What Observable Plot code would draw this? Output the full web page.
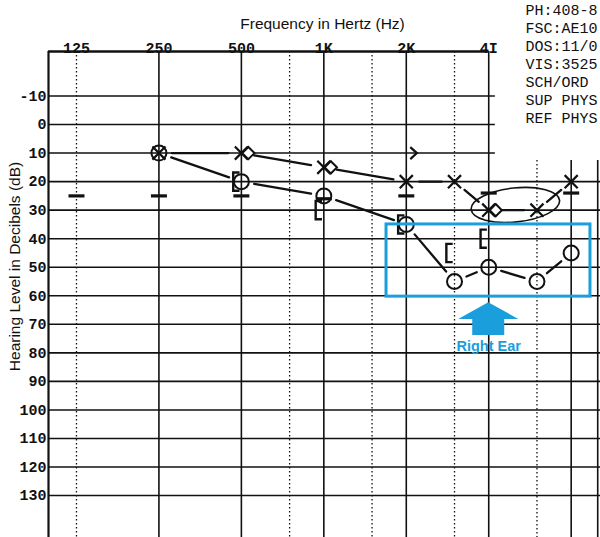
<!DOCTYPE html>
<html><head><meta charset="utf-8">
<script src="https://cdn.jsdelivr.net/npm/d3@7"></script>
<script src="https://cdn.jsdelivr.net/npm/@observablehq/plot@0.6"></script>
<style>html,body{margin:0;padding:0;background:#fff}svg{display:block}</style>
</head><body><div id="chart"></div>
<script>
// ---- data ----
const freqTicks = [125, 250, 500, 1000, 2000, 4000];
const freqLabels = ["125", "250", "500", "1K", "2K", "4I"];
const dbTicks = [-10, 0, 10, 20, 30, 40, 50, 60, 70, 80, 90, 100, 110, 120, 130];
const gridDbShort = [-10, 0, 10];
const gridDbLong = [20, 30, 40, 50, 60, 70, 80, 90, 100, 110, 120, 130];
const solidFreqs = [250, 500, 1000, 2000, 4000];
const dottedFreqs = [125, 750, 1500, 3000];
const lowSolidFreqs = [8000, 10000];
const lowDottedFreqs = [6000];

const rightFreq = [250, 500, 1000, 2000, 3000, 4000, 6000, 8000];
const rightAir = [10, 20, 25, 35, 55, 50, 55, 45];
const leftFreq = [250, 500, 1000, 2000, 3000, 4000, 6000, 8000];
const leftAir = [10, 10, 15, 20, 20, 30, 30, 20];
const diamondFreq = [500, 1000, 4000];
const diamondDb = [10, 15, 30];
const bracketFreq = [500, 1000, 2000, 3000, 4000];
const bracketDb = [20, 30, 35, 45, 40];
const dashFreq = [125, 250, 500, 1000, 2000, 4000, 8000];
const dashDb = [25, 25, 25, 26, 25, 24, 24];
const arrowNrFreq = [2000];
const arrowNrDb = [10];

const ovalFreq = [3460, 7300];
const ovalDb = [22.4, 34.3];
const boxFreq = [1694, 9408];
const boxDb = [35.0, 60.3];
const pointerFreq = 4000;
const pointerDb = [62.4, 68.3, 73.9];
const pointerLabel = "Right Ear";
const pointerLabelDb = 77.6;

const title = "Frequency in Hertz (Hz)";
const yTitle = "Hearing Level in Decibels (dB)";
const headerLines = ["PH:408-8", "FSC:AE10", "DOS:11/0", "VIS:3525", "SCH/ORD", "SUP PHYS", "REF PHYS"];

// ---- scales ----
const xmin = 98.8, xmax = 10236, ymin = -25.6, ymax = 144.7;
const shortGridEnd = 4230;
const lowLineStart = 12.6;
const mono = "Liberation Mono, DejaVu Sans Mono, monospace";
const sans = "Liberation Sans, Arial, sans-serif";
const blue = "#1a9fdc";
const ink = "#111";

const segs = (f, v) => f.slice(1).map((d, i) => ({x1: f[i], y1: v[i], x2: d, y2: v[i + 1]}));
const rightSegs = segs(rightFreq, rightAir);
const leftSegs = segs(leftFreq, leftAir);
const rightPts = rightFreq.map((f, i) => ({f, v: rightAir[i]}));
const leftPts = leftFreq.map((f, i) => ({f, v: leftAir[i]}));
const diamonds = diamondFreq.map((f, i) => ({f, v: diamondDb[i]}));
const brackets = bracketFreq.map((f, i) => ({f, v: bracketDb[i]}));
const dashes = dashFreq.map((f, i) => ({f, v: dashDb[i]}));
const nr = arrowNrFreq.map((f, i) => ({f, v: arrowNrDb[i]}));

const rOf = size => Math.sqrt(size / Math.PI);
const gtSymbol = {draw(c, s) { const r = rOf(s); c.moveTo(-r * 0.5, -r); c.lineTo(r * 0.6, 0); c.lineTo(-r * 0.5, r); }};
const bracketSymbol = {draw(c, s) { const r = rOf(s); c.moveTo(r * 0.45, -r * 1.3); c.lineTo(-r * 0.45, -r * 1.3); c.lineTo(-r * 0.45, r * 1.3); c.lineTo(r * 0.45, r * 1.3); }};
const dashSymbol = {draw(c, s) { const r = rOf(s); c.moveTo(-r, 0); c.lineTo(r, 0); }};

const ovalMark = (index, scales) => {
  const x0 = scales.x(ovalFreq[0]), x1 = scales.x(ovalFreq[1]);
  const y0 = scales.y(ovalDb[0]), y1 = scales.y(ovalDb[1]);
  const cx = (x0 + x1) / 2, cy = (y0 + y1) / 2;
  const g = d3.create("svg:g");
  g.append("ellipse")
    .attr("cx", cx).attr("cy", cy)
    .attr("rx", Math.abs(x1 - x0) / 2).attr("ry", Math.abs(y1 - y0) / 2)
    .attr("transform", `rotate(-6 ${cx} ${cy})`)
    .attr("fill", "none").attr("stroke", ink).attr("stroke-width", 1.6);
  return g.node();
};
const pointerMark = (index, scales) => {
  const cx = scales.x(pointerFreq);
  const tip = scales.y(pointerDb[0]), base = scales.y(pointerDb[1]), end = scales.y(pointerDb[2]);
  const hw = 30, sw = 16;
  const g = d3.create("svg:g");
  g.append("path")
    .attr("d", `M${cx},${tip}L${cx + hw},${base}L${cx + sw},${base}L${cx + sw},${end}L${cx - sw},${end}L${cx - sw},${base}L${cx - hw},${base}Z`)
    .attr("fill", blue);
  return g.node();
};

const chart = Plot.plot({
  width: 600, height: 537,
  marginLeft: 48, marginRight: 0, marginTop: 51, marginBottom: 0,
  style: {background: "#fff", overflow: "visible"},
  x: {type: "log", domain: [xmin, xmax], axis: null},
  y: {domain: [ymin, ymax], reverse: true, axis: null},
  marks: [
    // grid
    Plot.ruleY(gridDbShort, {x1: xmin, x2: shortGridEnd, stroke: ink, strokeWidth: 1.5}),
    Plot.ruleY(gridDbLong, {x1: xmin, x2: xmax, stroke: ink, strokeWidth: 1.6}),
    Plot.ruleX(solidFreqs, {y1: ymin, y2: ymax, stroke: ink, strokeWidth: 1.6}),
    Plot.ruleX(dottedFreqs, {y1: ymin, y2: ymax, stroke: ink, strokeWidth: 1.3, strokeDasharray: "1.5,2.5"}),
    Plot.ruleX(lowSolidFreqs, {y1: lowLineStart, y2: ymax, stroke: ink, strokeWidth: 1.6}),
    Plot.ruleX(lowDottedFreqs, {y1: lowLineStart, y2: ymax, stroke: ink, strokeWidth: 1.3, strokeDasharray: "1.5,2.5"}),
    Plot.ruleX([xmin], {y1: ymin, y2: ymax, stroke: ink, strokeWidth: 2.2}),
    Plot.ruleY([ymin], {x1: xmin, x2: 4000, stroke: ink, strokeWidth: 2.5}),
    // tick labels
    Plot.text(dbTicks, {y: d => d, text: d => String(d), frameAnchor: "left", textAnchor: "end", dx: -2,
      fontFamily: mono, fontSize: 15, fontWeight: "bold", fill: ink}),
    Plot.text(freqTicks, {x: d => d, text: (d, i) => freqLabels[i], frameAnchor: "top", dy: -9,
      fontFamily: mono, fontSize: 15, fontWeight: "bold", fill: ink}),
    Plot.text([title], {frameAnchor: "top", dx: -2, dy: -34, fontFamily: sans, fontSize: 15.5, fill: ink}),
    Plot.text([yTitle], {frameAnchor: "left", textAnchor: "middle", rotate: -90, dx: -33, dy: -28, fontFamily: sans, fontSize: 15.5, fill: ink}),
    Plot.text([headerLines.join("\n")], {frameAnchor: "top-right", textAnchor: "start", lineAnchor: "top",
      dx: -75, dy: -49, lineHeight: 1.2, fontFamily: mono, fontSize: 15, fill: ink}),
    // connecting lines
    Plot.arrow(rightSegs, {x1: "x1", y1: "y1", x2: "x2", y2: "y2", headLength: 0, inset: 13, stroke: ink, strokeWidth: 2.3}),
    Plot.arrow(leftSegs, {x1: "x1", y1: "y1", x2: "x2", y2: "y2", headLength: 0, inset: 13, stroke: ink, strokeWidth: 2.3}),
    // symbols
    Plot.dot(dashes, {x: "f", y: "v", symbol: dashSymbol, r: 8, fill: "none", stroke: ink, strokeWidth: 3.2}),
    Plot.dot(rightPts, {x: "f", y: "v", symbol: "circle", r: 7.5, fill: "none", stroke: ink, strokeWidth: 2}),
    Plot.dot(leftPts, {x: "f", y: "v", symbol: "times", r: 6, stroke: ink, strokeWidth: 2.2}),
    Plot.dot(diamonds, {x: "f", y: "v", symbol: "diamond2", r: 5.5, dx: 7, fill: "#fff", stroke: ink, strokeWidth: 2}),
    Plot.dot(brackets, {x: "f", y: "v", symbol: bracketSymbol, r: 7, dx: -5, fill: "none", stroke: ink, strokeWidth: 2.4}),
    Plot.dot(nr, {x: "f", y: "v", symbol: gtSymbol, r: 6, dx: 7, fill: "none", stroke: ink, strokeWidth: 2.2}),
    ovalMark,
    // annotation
    Plot.rect([0], {x1: boxFreq[0], x2: boxFreq[1], y1: boxDb[0], y2: boxDb[1], fill: "none", stroke: blue, strokeWidth: 3}),
    pointerMark,
    Plot.text([pointerLabel], {x: pointerFreq, y: pointerLabelDb, fontFamily: sans, fontSize: 14.5, fontWeight: "bold", fill: blue})
  ]
});
document.getElementById("chart").append(chart);
</script>
</body></html>
